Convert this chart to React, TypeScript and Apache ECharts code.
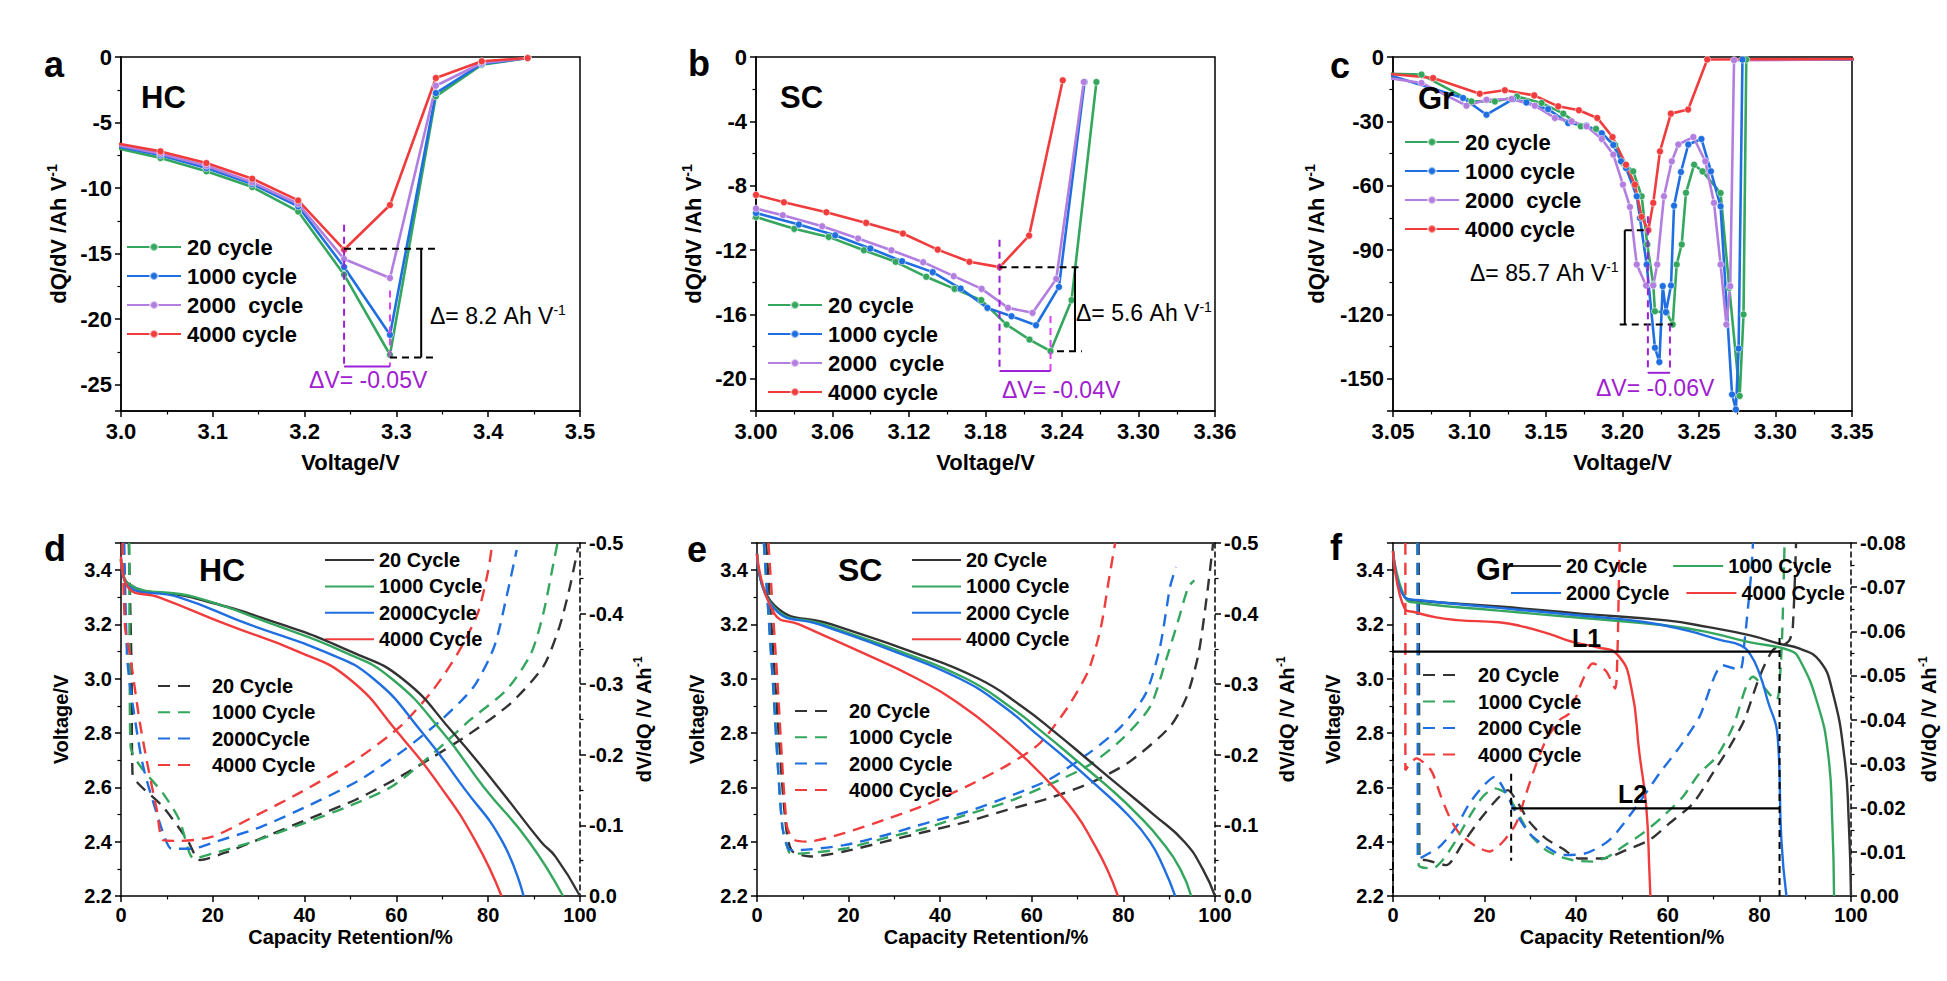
import React, { useEffect, useRef } from "react";
import * as echarts from "echarts";

const FONT = '"Liberation Sans", Arial, Helvetica, sans-serif';

// ---------- colours ----------
const GREEN = "#34a65e";
const BLUE = "#1f6fe0";
const PURPLE = "#b27ee0";
const RED = "#f03c3c";
const DARK = "#333333";
const VIOLET = "#a020d0";

// ---------- panel a : HC dQ/dV ----------
const A_VOLT = [2.993, 3.043, 3.093, 3.143, 3.193, 3.243, 3.293, 3.343, 3.393, 3.443];
const A_20 = [-6.91, -7.71, -8.72, -9.92, -11.78, -16.6, -22.71, -3.0, -0.58, -0.08];
const A_1000 = [-6.77, -7.5, -8.47, -9.69, -11.39, -16.02, -21.19, -2.75, -0.53, -0.08];
const A_2000 = [-6.67, -7.38, -8.29, -9.56, -11.19, -15.41, -16.86, -2.19, -0.46, -0.08];
const A_4000 = [-6.55, -7.2, -8.09, -9.28, -10.94, -14.7, -11.29, -1.6, -0.33, -0.08];

// ---------- panel b : SC dQ/dV ----------
const B_20_X = [3.0, 3.03, 3.057, 3.0846, 3.1095, 3.1335, 3.1557, 3.1767, 3.1965, 3.2145, 3.231, 3.2475, 3.267];
const B_20_Y = [-9.94, -10.68, -11.18, -12.01, -12.73, -13.66, -14.41, -15.11, -16.63, -17.56, -18.28, -15.11, -1.55];
const B_1000_X = [3.0, 3.0336, 3.0621, 3.0897, 3.1146, 3.1386, 3.1605, 3.1815, 3.2004, 3.2196, 3.2376, 3.2577];
const B_1000_Y = [-9.69, -10.41, -11.08, -11.9, -12.69, -13.37, -14.39, -15.59, -16.11, -16.67, -14.29, -1.55];
const B_2000_X = [3.0, 3.021, 3.0519, 3.0801, 3.1062, 3.1311, 3.1551, 3.177, 3.1977, 3.2169, 3.2355, 3.2571];
const B_2000_Y = [-9.42, -9.83, -10.52, -11.28, -12.01, -12.75, -13.62, -14.41, -15.59, -15.9, -13.79, -1.55];
const B_4000_X = [3.0, 3.0219, 3.0552, 3.0864, 3.1152, 3.1425, 3.1674, 3.1911, 3.2142, 3.2406];
const B_4000_Y = [-8.57, -9.03, -9.65, -10.31, -10.97, -11.97, -12.73, -13.06, -11.1, -1.45];

// ---------- panel c : Gr dQ/dV ----------
const C_20_X = [3.047, 3.0686, 3.1013, 3.1166, 3.131, 3.1471, 3.1613, 3.1727, 3.1827, 3.1952, 3.2003, 3.207, 3.2125, 3.2162, 3.2201, 3.2212, 3.2289, 3.2328, 3.2354, 3.2387, 3.2415, 3.2468, 3.2523, 3.2641, 3.2698, 3.2766, 3.2791, 3.2809, 3.36];
const C_20_Y = [-7.8, -8.2, -20.7, -20.7, -18.4, -21.4, -26.4, -32.3, -33.5, -41, -49.4, -53.3, -64.9, -87.4, -106, -118.5, -119.2, -124.7, -96.7, -87.4, -63.3, -50.2, -53.3, -63.4, -107.6, -158, -120, -1.2, -1.2];
const C_1000_X = [3.047, 3.0958, 3.1111, 3.1285, 3.1372, 3.1514, 3.1645, 3.1765, 3.1865, 3.194, 3.199, 3.2023, 3.2093, 3.2114, 3.2158, 3.2212, 3.2241, 3.2263, 3.2284, 3.2317, 3.2337, 3.2382, 3.243, 3.2516, 3.2578, 3.2641, 3.2716, 3.2741, 3.2759, 3.2784, 3.36];
const C_1000_Y = [-8.3, -19.1, -26.9, -19.6, -21.2, -24.3, -30.8, -32, -35.5, -41, -48.6, -51.7, -64.9, -75, -96.7, -135.5, -142.2, -106.8, -118.9, -106.5, -69.3, -53.6, -40.8, -38.2, -53.3, -69.6, -157.3, -164.3, -135.9, -1.2, -1.2];
const C_2000_X = [3.047, 3.0686, 3.098, 3.1111, 3.1275, 3.1427, 3.1558, 3.1667, 3.1765, 3.1865, 3.194, 3.2003, 3.2049, 3.2093, 3.2154, 3.2201, 3.2227, 3.2271, 3.2322, 3.2365, 3.2463, 3.2541, 3.2598, 3.2641, 3.2679, 3.2704, 3.2729, 3.36];
const C_2000_Y = [-9.8, -12.1, -22.7, -19.9, -19.6, -22.7, -28.4, -30, -32.3, -38.2, -45.5, -59.5, -69.9, -96.7, -106.5, -106.5, -96.7, -64.9, -48.6, -40.8, -37.3, -48.6, -68, -96.7, -124.7, -106.8, -1.5, -1];
const C_4000_X = [3.047, 3.0762, 3.1067, 3.1231, 3.1423, 3.158, 3.1715, 3.1835, 3.1935, 3.2023, 3.2081, 3.2125, 3.2169, 3.2201, 3.2245, 3.2316, 3.2429, 3.2554, 3.36];
const C_4000_Y = [-7.8, -9.8, -17.1, -15.5, -17.9, -23.0, -24.8, -28.4, -37.3, -50.2, -59.5, -74.5, -80.7, -68, -44, -26.4, -24.5, -1.2, -0.9];

// ---------- panel d : HC voltage & dV/dQ ----------
const D_S20_X = [0, 1.6, 15.4, 35, 50.1, 61.3, 72.4, 82.2, 91.5, 94.7, 100];
const D_S20_V = [3.44, 3.35, 3.3, 3.2, 3.1, 3.0, 2.8, 2.6, 2.4, 2.344, 2.2];
const D_S1000_X = [0, 1.6, 16.3, 33.2, 48.4, 59, 70.2, 79.1, 88.9, 96.3];
const D_S1000_V = [3.44, 3.35, 3.3, 3.2, 3.1, 3.0, 2.8, 2.6, 2.4, 2.2];
const D_S2000_X = [0, 1.6, 12.7, 27.9, 44.3, 55, 65.7, 74.6, 83.1, 87.7];
const D_S2000_V = [3.44, 3.34, 3.3, 3.2, 3.1, 3.0, 2.8, 2.6, 2.4, 2.2];
const D_S4000_X = [0, 1.6, 8.3, 23, 38.6, 49.7, 60.4, 69.7, 77.3, 82.9];
const D_S4000_V = [3.45, 3.335, 3.3, 3.2, 3.1, 3.0, 2.8, 2.6, 2.4, 2.2];
const D_D20_X = [1.7, 2.3, 2.5, 3.8, 9.2, 14.5, 17.2, 23.4, 31.4, 41.2, 51, 60.8, 68, 76, 84.9, 92, 95.5, 97.8, 99.6];
const D_D20_Y = [-0.5, -0.32, -0.174, -0.159, -0.126, -0.079, -0.051, -0.063, -0.084, -0.11, -0.136, -0.169, -0.197, -0.23, -0.273, -0.325, -0.381, -0.438, -0.494];
const D_D1000_X = [1.8, 1.9, 2.1, 4.3, 9.2, 12.7, 15.9, 19.9, 28.8, 38.6, 49.2, 59, 68, 76, 84, 89.3, 92, 94.2, 95.1];
const D_D1000_Y = [-0.5, -0.3, -0.211, -0.183, -0.145, -0.108, -0.053, -0.06, -0.077, -0.1, -0.126, -0.155, -0.202, -0.249, -0.292, -0.343, -0.4, -0.471, -0.5];
const D_D2000_X = [0.7, 1.3, 2, 4.3, 5.6, 9.2, 11, 15.4, 20.7, 30.5, 41.2, 51.9, 61.7, 69.7, 76.8, 81.3, 84, 86.2];
const D_D2000_Y = [-0.5, -0.343, -0.296, -0.2, -0.164, -0.089, -0.067, -0.067, -0.077, -0.098, -0.129, -0.164, -0.207, -0.249, -0.296, -0.353, -0.424, -0.49];
const D_D4000_X = [0.3, 0.9, 2, 4, 5.6, 7.8, 9.2, 12.7, 19.9, 28.8, 38.6, 50.1, 60.8, 68, 73.3, 77.7, 80, 80.9];
const D_D4000_Y = [-0.5, -0.38, -0.34, -0.25, -0.192, -0.122, -0.079, -0.078, -0.084, -0.112, -0.145, -0.188, -0.24, -0.292, -0.343, -0.4, -0.461, -0.5];

// ---------- panel e : SC voltage & dV/dQ ----------
const E_S20_X = [0, 3.8, 16.3, 33.7, 48.4, 57.7, 65.3, 72.4, 79.5, 86.6, 93.3, 97.3, 100];
const E_S20_V = [3.46, 3.27, 3.2, 3.1, 3.0, 2.9, 2.8, 2.7, 2.6, 2.5, 2.4, 2.3, 2.2];
const E_S1000_X = [0, 3.8, 14.5, 31.4, 45.7, 55, 62.6, 69.7, 76.8, 83.1, 88.4, 92.4, 94.8];
const E_S1000_V = [3.46, 3.262, 3.2, 3.1, 3.0, 2.9, 2.8, 2.7, 2.6, 2.5, 2.4, 2.3, 2.2];
const E_S2000_X = [0, 3.8, 13.6, 30.1, 44.3, 53.7, 60.8, 67.9, 74.6, 80.9, 85.8, 88.9, 91.3];
const E_S2000_V = [3.46, 3.258, 3.2, 3.1, 3.0, 2.9, 2.8, 2.7, 2.6, 2.5, 2.4, 2.3, 2.2];
const E_S4000_X = [0, 3.8, 9.2, 22.5, 35, 44.8, 52.4, 59, 64.8, 69.7, 73.3, 76.4, 78.8];
const E_S4000_V = [3.46, 3.24, 3.2, 3.1, 3.0, 2.9, 2.8, 2.7, 2.6, 2.5, 2.4, 2.3, 2.2];
const E_D20_X = [2, 4, 6, 7.5, 11.8, 19, 27.9, 36.8, 45.7, 54.6, 63.5, 72.4, 81.3, 90.2, 93.8, 96.4, 98.2, 99.6];
const E_D20_Y = [-0.5, -0.3, -0.12, -0.065, -0.056, -0.063, -0.077, -0.091, -0.105, -0.122, -0.138, -0.159, -0.19, -0.24, -0.282, -0.343, -0.424, -0.5];
const E_D1000_X = [1.5, 3.5, 5.5, 7, 8.3, 19, 27.9, 36.8, 45.7, 54.6, 63.5, 72.4, 79.5, 85.8, 89.3, 92, 94.2, 95.5];
const E_D1000_Y = [-0.5, -0.3, -0.1, -0.062, -0.06, -0.067, -0.082, -0.096, -0.115, -0.133, -0.157, -0.185, -0.221, -0.268, -0.334, -0.391, -0.438, -0.447];
const E_D2000_X = [1.5, 3.5, 5.5, 7, 8.3, 19, 27.9, 36.8, 45.7, 54.6, 63.5, 72.4, 79.5, 84.9, 88, 90.2, 91.5];
const E_D2000_Y = [-0.5, -0.3, -0.1, -0.066, -0.065, -0.072, -0.086, -0.103, -0.119, -0.14, -0.164, -0.202, -0.24, -0.287, -0.353, -0.438, -0.466];
const E_D4000_X = [2.5, 4.5, 6.5, 8, 11, 19, 27.9, 36.8, 45.7, 54.6, 61.7, 67.9, 72.4, 75.1, 76.8, 78.2];
const E_D4000_Y = [-0.5, -0.3, -0.1, -0.08, -0.077, -0.089, -0.108, -0.129, -0.155, -0.185, -0.216, -0.268, -0.32, -0.381, -0.447, -0.5];

// ---------- panel f : Gr voltage & dV/dQ ----------
const F_S20_X = [0, 2.6, 5.3, 23.1, 41.4, 59.7, 68.9, 78, 84.4, 88.8, 93.1, 95.9, 98.6, 99.5, 100];
const F_S20_V = [3.47, 3.3, 3.288, 3.266, 3.239, 3.215, 3.19, 3.16, 3.129, 3.111, 3.067, 2.957, 2.706, 2.479, 2.2];
const F_S1000_X = [0, 2.6, 5.3, 23.1, 41.4, 59.7, 68.9, 78, 86.6, 88.8, 92.7, 95, 95.9, 96.3];
const F_S1000_V = [3.47, 3.3, 3.28, 3.251, 3.224, 3.196, 3.171, 3.134, 3.105, 3.07, 2.908, 2.724, 2.479, 2.2];
const F_S2000_X = [0, 2.6, 5.3, 23.1, 41.4, 55.2, 64.3, 71.6, 75.8, 78, 80, 81.8, 84, 84.8, 85.9];
const F_S2000_V = [3.47, 3.3, 3.29, 3.261, 3.232, 3.208, 3.177, 3.142, 3.124, 3.09, 3.02, 2.92, 2.786, 2.406, 2.2];
const F_S4000_X = [0, 2.6, 4.8, 9.4, 14, 23.1, 27.7, 34.1, 39.6, 44.4, 49.1, 52, 53.8, 55.3, 56, 56.2];
const F_S4000_V = [3.47, 3.257, 3.245, 3.226, 3.216, 3.208, 3.195, 3.165, 3.134, 3.117, 3.087, 2.97, 2.725, 2.528, 2.283, 2.2];
const F_D20_X = [5.6, 5.7, 5.8, 6.5, 11.6, 15.2, 18.9, 22.5, 25.1, 26.9, 29.8, 33.4, 37.1, 40.5, 45.8, 50.9, 56, 60.4, 65.5, 69.8, 73.5, 76.7, 80, 82.9, 85.5, 86.6, 87.3, 88];
const F_D20_Y = [-0.08, -0.04, -0.0082, -0.0082, -0.007, -0.0119, -0.0172, -0.0217, -0.024, -0.0217, -0.0168, -0.013, -0.0107, -0.0085, -0.0085, -0.0104, -0.0127, -0.0165, -0.021, -0.0278, -0.0338, -0.0399, -0.0496, -0.0557, -0.057, -0.058, -0.061, -0.08];
const F_D1000_X = [5.3, 5.5, 5.6, 8.7, 10.9, 13.8, 16.7, 19.6, 22.2, 24.7, 26.9, 29.8, 33.4, 37.1, 40, 43.6, 46.9, 50.2, 54.5, 58.9, 63.3, 66.9, 70.6, 74.2, 78.6, 83.7, 84.5, 85, 85.5];
const F_D1000_Y = [-0.08, -0.04, -0.007, -0.0063, -0.0082, -0.0127, -0.018, -0.0225, -0.0244, -0.0233, -0.0195, -0.0142, -0.0104, -0.0087, -0.008, -0.0078, -0.0089, -0.0112, -0.0142, -0.018, -0.0225, -0.0278, -0.0315, -0.0383, -0.0497, -0.0444, -0.0498, -0.06, -0.08];
const F_D2000_X = [5.4, 5.4, 5.4, 6.5, 10.2, 13.8, 16.7, 19.6, 22.2, 24.7, 26.9, 29.8, 33.4, 37.1, 42.2, 47.3, 53.1, 58.2, 62.6, 66.9, 72, 75.7, 76.7, 78.2, 78.6];
const F_D2000_Y = [-0.08, -0.04, -0.0082, -0.0089, -0.0112, -0.0157, -0.021, -0.0248, -0.027, -0.0233, -0.0187, -0.0142, -0.0112, -0.0093, -0.0097, -0.0127, -0.0202, -0.0278, -0.0338, -0.0406, -0.0523, -0.0512, -0.0572, -0.0731, -0.08];
const F_D4000_X = [2.7, 2.7, 2.7, 5.1, 8.3, 10.5, 12.3, 14.5, 18.2, 21.1, 24, 26.9, 29.1, 31.3, 33.4, 36.4, 38.5, 41.4, 43.6, 46.5, 48.5, 49, 49.3, 49.5];
const F_D4000_Y = [-0.08, -0.05, -0.0285, -0.0312, -0.0285, -0.0225, -0.018, -0.0142, -0.0112, -0.0101, -0.0123, -0.0165, -0.0233, -0.03, -0.0353, -0.0399, -0.0414, -0.0489, -0.0527, -0.051, -0.047, -0.055, -0.07, -0.08];

// ---------- annotation guides (data units) ----------
const A_GUIDE_V = [3.243, 3.293, 3.327, 3.342];
const A_GUIDE_Q = [-12.8, -17.8, -14.62, -22.92, -23.6];
const B_GUIDE_V = [3.191, 3.231, 3.2502, 3.2556, 3.2361];
const B_GUIDE_Q = [-11.35, -16.1, -13.06, -18.28, -19.52];
const C_GUIDE_V = [3.2015, 3.2166, 3.1982, 3.2328, 3.231];
const C_GUIDE_Q = [-80.7, -124.7, -74.2, -147.2];
const F_GUIDE_X = [0, 25.8, 84.4];
const F_GUIDE_V = [3.1, 2.523, 3.165, 2.2, 2.65, 2.33, 3.15];

const zip = (xs: number[], ys: number[]) => xs.map((x, i) => [x, ys[i]]);

const TOP_FS = 22;
const BOT_FS = 20;

function valueAxis(o: any) {
  const fs = o.fs;
  return {
    type: "value",
    gridIndex: o.grid,
    position: o.position,
    min: o.min,
    max: o.max,
    minInterval: o.step,
    maxInterval: o.step,
    splitNumber: Math.round((o.max - o.min) / o.step),
    inverse: !!o.inverse,
    name: o.name,
    nameLocation: "middle",
    nameGap: o.nameGap,
    nameRotate: o.nameRotate,
    nameTextStyle: o.nameStyle,
    axisLine: { show: true, onZero: false, lineStyle: { color: "#000", width: 1.5, type: o.dashed ? [5, 4] : "solid" } },
    axisTick: { show: true, length: 6, lineStyle: { color: "#000", width: 1.5 } },
    minorTick: { show: true, splitNumber: 2, length: 3.5, lineStyle: { color: "#000", width: 1.2 } },
    splitLine: { show: false },
    minorSplitLine: { show: false },
    axisLabel: {
      show: true,
      color: "#000",
      fontFamily: FONT,
      fontWeight: "bold",
      fontSize: fs,
      margin: 9,
      showMinLabel: o.showMin !== false,
      showMaxLabel: o.showMax !== false,
      formatter: (v: number) => v.toFixed(o.dec),
    },
  };
}

function plainStyle(fs: number) {
  return { color: "#000", fontFamily: FONT, fontWeight: "bold", fontSize: fs };
}
function supName(fs: number) {
  return {
    color: "#000",
    rich: {
      b: { fontFamily: FONT, fontWeight: "bold", fontSize: fs, color: "#000", lineHeight: fs + 4 },
      s: { fontFamily: FONT, fontWeight: "bold", fontSize: Math.round(fs * 0.62), color: "#000", lineHeight: Math.round(fs * 0.62), verticalAlign: "top" },
    },
  };
}

function topLine(name: string, xs: number[], ys: number[], color: string, idx: number) {
  return {
    type: "line",
    name,
    xAxisIndex: idx,
    yAxisIndex: idx,
    data: zip(xs, ys),
    symbol: "circle",
    symbolSize: 7,
    showSymbol: true,
    lineStyle: { color, width: 2.6 },
    itemStyle: { color, borderColor: "rgba(255,255,255,0.55)", borderWidth: 1 },
    z: 4,
  };
}

function curve(name: string, xs: number[], ys: number[], color: string, xi: number, yi: number, dashed: boolean) {
  return {
    type: "line",
    name,
    xAxisIndex: xi,
    yAxisIndex: yi,
    data: zip(xs, ys),
    symbol: "none",
    showSymbol: false,
    smooth: dashed ? 0.25 : 0.5,
    lineStyle: { color, width: 2.4, type: dashed ? [12, 8] : "solid" },
    itemStyle: { color },
    z: dashed ? 3 : 4,
  };
}

function guide(xs: number[], ys: number[], color: string, xi: number, yi: number, dashed: boolean, width = 2) {
  return {
    type: "line",
    xAxisIndex: xi,
    yAxisIndex: yi,
    data: zip(xs, ys),
    symbol: "none",
    showSymbol: false,
    silent: true,
    lineStyle: { color, width, type: dashed ? [7, 5] : "solid" },
    z: 6,
  };
}

function legendBlock(names: string[], left: number, top: number, fs: number, itemWidth: number, gap: number, textPad: number, orient = "vertical", hideDot = false) {
  const l: any = {
    show: true,
    orient,
    left,
    top,
    padding: 0,
    itemGap: gap,
    itemWidth,
    itemHeight: 10,
    selectedMode: false,
    data: names,
    formatter: (n: string) => n.split("|")[1],
    textStyle: { color: "#000", fontFamily: FONT, fontWeight: "bold", fontSize: fs, lineHeight: fs, padding: [0, 0, 0, textPad] },
  };
  if (hideDot) l.itemStyle = { color: "rgba(0,0,0,0)", borderColor: "rgba(0,0,0,0)", borderWidth: 0, opacity: 0 };
  return l;
}

function txt(text: string, x: number, y: number, size: number, bold = true, color = "#000") {
  return {
    type: "text",
    x,
    y,
    z: 100,
    style: {
      text,
      fill: color,
      fontFamily: FONT,
      fontWeight: bold ? "bold" : "normal",
      fontSize: size,
      align: "left",
      verticalAlign: "middle",
      textAlign: "left",
      textVerticalAlign: "middle",
    },
  };
}

function deltaTxt(main: string, x: number, y: number) {
  return {
    type: "text",
    x,
    y,
    z: 100,
    style: {
      text: `{n|${main}}{s|-1}`,
      fill: "#000",
      align: "left",
      verticalAlign: "middle",
      rich: {
        n: { fontFamily: FONT, fontSize: 23, fill: "#000", lineHeight: 26 },
        s: { fontFamily: FONT, fontSize: 14, fill: "#000", lineHeight: 14, verticalAlign: "top" },
      },
    },
  };
}

function buildOption() {
  const grids = [
    { left: 121, top: 57, width: 459, height: 354, show: true, borderColor: "#000", borderWidth: 1.5 },
    { left: 756, top: 57, width: 459, height: 354, show: true, borderColor: "#000", borderWidth: 1.5 },
    { left: 1393, top: 57, width: 459, height: 354, show: true, borderColor: "#000", borderWidth: 1.5 },
    { left: 121, top: 543, width: 459, height: 353, show: false },
    { left: 757, top: 543, width: 458, height: 353, show: false },
    { left: 1393, top: 543, width: 458, height: 353, show: false },
  ];

  const xName = (fs: number, name: string, gap: number) => ({ name, nameGap: gap, nameStyle: plainStyle(fs) });

  const xAxis: any[] = [
    valueAxis({ grid: 0, position: "bottom", min: 3.0, max: 3.5, step: 0.1, dec: 1, fs: TOP_FS, ...xName(TOP_FS, "Voltage/V", 40) }),
    valueAxis({ grid: 1, position: "bottom", min: 3.0, max: 3.36, step: 0.06, dec: 2, fs: TOP_FS, ...xName(TOP_FS, "Voltage/V", 40) }),
    valueAxis({ grid: 2, position: "bottom", min: 3.05, max: 3.35, step: 0.05, dec: 2, fs: TOP_FS, ...xName(TOP_FS, "Voltage/V", 40) }),
    valueAxis({ grid: 3, position: "bottom", min: 0, max: 100, step: 20, dec: 0, fs: BOT_FS, ...xName(BOT_FS, "Capacity Retention/%", 31) }),
    valueAxis({ grid: 4, position: "bottom", min: 0, max: 100, step: 20, dec: 0, fs: BOT_FS, ...xName(BOT_FS, "Capacity Retention/%", 31) }),
    valueAxis({ grid: 5, position: "bottom", min: 0, max: 100, step: 20, dec: 0, fs: BOT_FS, ...xName(BOT_FS, "Capacity Retention/%", 31) }),
  ];
  for (let g = 3; g <= 5; g++) {
    xAxis.push({
      type: "value",
      gridIndex: g,
      position: "top",
      min: 0,
      max: 100,
      axisLine: { show: true, onZero: false, lineStyle: { color: "#000", width: 1.5 } },
      axisTick: { show: false },
      axisLabel: { show: false },
      splitLine: { show: false },
    });
  }

  const yAxis: any[] = [
    valueAxis({ grid: 0, position: "left", min: -27, max: 0, step: 5, dec: 0, fs: TOP_FS, showMin: false, name: "{b|dQ/dV /Ah V}{s|-1}", nameGap: 50, nameRotate: 90, nameStyle: supName(TOP_FS) }),
    valueAxis({ grid: 1, position: "left", min: -22, max: 0, step: 4, dec: 0, fs: TOP_FS, showMin: false, name: "{b|dQ/dV /Ah V}{s|-1}", nameGap: 50, nameRotate: 90, nameStyle: supName(TOP_FS) }),
    valueAxis({ grid: 2, position: "left", min: -165, max: 0, step: 30, dec: 0, fs: TOP_FS, showMin: false, name: "{b|dQ/dV /Ah V}{s|-1}", nameGap: 64, nameRotate: 90, nameStyle: supName(TOP_FS) }),
    valueAxis({ grid: 3, position: "left", min: 2.2, max: 3.5, step: 0.2, dec: 1, fs: BOT_FS, showMax: false, name: "Voltage/V", nameGap: 50, nameRotate: 90, nameStyle: plainStyle(BOT_FS) }),
    valueAxis({ grid: 3, position: "right", min: -0.5, max: 0, step: 0.1, dec: 1, fs: BOT_FS, inverse: true, dashed: true, name: "{b|dV/dQ /V Ah}{s|-1}", nameGap: 52, nameRotate: 90, nameStyle: supName(BOT_FS) }),
    valueAxis({ grid: 4, position: "left", min: 2.2, max: 3.5, step: 0.2, dec: 1, fs: BOT_FS, showMax: false, name: "Voltage/V", nameGap: 50, nameRotate: 90, nameStyle: plainStyle(BOT_FS) }),
    valueAxis({ grid: 4, position: "right", min: -0.5, max: 0, step: 0.1, dec: 1, fs: BOT_FS, inverse: true, dashed: true, name: "{b|dV/dQ /V Ah}{s|-1}", nameGap: 60, nameRotate: 90, nameStyle: supName(BOT_FS) }),
    valueAxis({ grid: 5, position: "left", min: 2.2, max: 3.5, step: 0.2, dec: 1, fs: BOT_FS, showMax: false, name: "Voltage/V", nameGap: 50, nameRotate: 90, nameStyle: plainStyle(BOT_FS) }),
    valueAxis({ grid: 5, position: "right", min: -0.08, max: 0, step: 0.01, dec: 2, fs: BOT_FS, inverse: true, dashed: true, name: "{b|dV/dQ /V Ah}{s|-1}", nameGap: 66, nameRotate: 90, nameStyle: supName(BOT_FS) }),
  ];

  const series: any[] = [
    topLine("a|20 cycle", A_VOLT, A_20, GREEN, 0),
    topLine("a|1000 cycle", A_VOLT, A_1000, BLUE, 0),
    topLine("a|2000  cycle", A_VOLT, A_2000, PURPLE, 0),
    topLine("a|4000 cycle", A_VOLT, A_4000, RED, 0),
    topLine("b|20 cycle", B_20_X, B_20_Y, GREEN, 1),
    topLine("b|1000 cycle", B_1000_X, B_1000_Y, BLUE, 1),
    topLine("b|2000  cycle", B_2000_X, B_2000_Y, PURPLE, 1),
    topLine("b|4000 cycle", B_4000_X, B_4000_Y, RED, 1),
    topLine("c|20 cycle", C_20_X, C_20_Y, GREEN, 2),
    topLine("c|1000 cycle", C_1000_X, C_1000_Y, BLUE, 2),
    topLine("c|2000  cycle", C_2000_X, C_2000_Y, PURPLE, 2),
    topLine("c|4000 cycle", C_4000_X, C_4000_Y, RED, 2),
    curve("dd|20 Cycle", D_D20_X, D_D20_Y, DARK, 3, 4, true),
    curve("dd|1000 Cycle", D_D1000_X, D_D1000_Y, GREEN, 3, 4, true),
    curve("dd|2000Cycle", D_D2000_X, D_D2000_Y, BLUE, 3, 4, true),
    curve("dd|4000 Cycle", D_D4000_X, D_D4000_Y, RED, 3, 4, true),
    curve("ds|20 Cycle", D_S20_X, D_S20_V, DARK, 3, 3, false),
    curve("ds|1000 Cycle", D_S1000_X, D_S1000_V, GREEN, 3, 3, false),
    curve("ds|2000Cycle", D_S2000_X, D_S2000_V, BLUE, 3, 3, false),
    curve("ds|4000 Cycle", D_S4000_X, D_S4000_V, RED, 3, 3, false),
    curve("ed|20 Cycle", E_D20_X, E_D20_Y, DARK, 4, 6, true),
    curve("ed|1000 Cycle", E_D1000_X, E_D1000_Y, GREEN, 4, 6, true),
    curve("ed|2000 Cycle", E_D2000_X, E_D2000_Y, BLUE, 4, 6, true),
    curve("ed|4000 Cycle", E_D4000_X, E_D4000_Y, RED, 4, 6, true),
    curve("es|20 Cycle", E_S20_X, E_S20_V, DARK, 4, 5, false),
    curve("es|1000 Cycle", E_S1000_X, E_S1000_V, GREEN, 4, 5, false),
    curve("es|2000 Cycle", E_S2000_X, E_S2000_V, BLUE, 4, 5, false),
    curve("es|4000 Cycle", E_S4000_X, E_S4000_V, RED, 4, 5, false),
    curve("fd|20 Cycle", F_D20_X, F_D20_Y, DARK, 5, 8, true),
    curve("fd|1000 Cycle", F_D1000_X, F_D1000_Y, GREEN, 5, 8, true),
    curve("fd|2000 Cycle", F_D2000_X, F_D2000_Y, BLUE, 5, 8, true),
    curve("fd|4000 Cycle", F_D4000_X, F_D4000_Y, RED, 5, 8, true),
    curve("fs|20 Cycle", F_S20_X, F_S20_V, DARK, 5, 7, false),
    curve("fs|1000 Cycle", F_S1000_X, F_S1000_V, GREEN, 5, 7, false),
    curve("fs|2000 Cycle", F_S2000_X, F_S2000_V, BLUE, 5, 7, false),
    curve("fs|4000 Cycle", F_S4000_X, F_S4000_V, RED, 5, 7, false),

    guide([A_GUIDE_V[0], A_GUIDE_V[0]], [A_GUIDE_Q[0], A_GUIDE_Q[4]], "#9b22d6", 0, 0, true),
    guide([A_GUIDE_V[1], A_GUIDE_V[1]], [A_GUIDE_Q[1], A_GUIDE_Q[4]], "#e040fb", 0, 0, true),
    guide([A_GUIDE_V[0], A_GUIDE_V[1]], [A_GUIDE_Q[4], A_GUIDE_Q[4]], "#9b22d6", 0, 0, false),
    guide([A_GUIDE_V[0], A_GUIDE_V[3]], [A_GUIDE_Q[2], A_GUIDE_Q[2]], "#000", 0, 0, true),
    guide([A_GUIDE_V[1], A_GUIDE_V[3]], [A_GUIDE_Q[3], A_GUIDE_Q[3]], "#000", 0, 0, true),
    guide([A_GUIDE_V[2], A_GUIDE_V[2]], [A_GUIDE_Q[2], A_GUIDE_Q[3]], "#000", 0, 0, false),
    guide([B_GUIDE_V[0], B_GUIDE_V[0]], [B_GUIDE_Q[0], B_GUIDE_Q[4]], "#9b22d6", 1, 1, true),
    guide([B_GUIDE_V[1], B_GUIDE_V[1]], [B_GUIDE_Q[1], B_GUIDE_Q[4]], "#e040fb", 1, 1, true),
    guide([B_GUIDE_V[0], B_GUIDE_V[1]], [B_GUIDE_Q[4], B_GUIDE_Q[4]], "#9b22d6", 1, 1, false),
    guide([B_GUIDE_V[0], B_GUIDE_V[3]], [B_GUIDE_Q[2], B_GUIDE_Q[2]], "#000", 1, 1, true),
    guide([B_GUIDE_V[4], B_GUIDE_V[3]], [B_GUIDE_Q[3], B_GUIDE_Q[3]], "#000", 1, 1, true),
    guide([B_GUIDE_V[2], B_GUIDE_V[2]], [B_GUIDE_Q[2], B_GUIDE_Q[3]], "#000", 1, 1, false),
    guide([C_GUIDE_V[0], C_GUIDE_V[1]], [C_GUIDE_Q[0], C_GUIDE_Q[0]], "#000", 2, 2, true),
    guide([C_GUIDE_V[2], C_GUIDE_V[3]], [C_GUIDE_Q[1], C_GUIDE_Q[1]], "#000", 2, 2, true),
    guide([C_GUIDE_V[0], C_GUIDE_V[0]], [C_GUIDE_Q[0], C_GUIDE_Q[1]], "#000", 2, 2, false),
    guide([C_GUIDE_V[1], C_GUIDE_V[1]], [C_GUIDE_Q[2], C_GUIDE_Q[3]], "#9b22d6", 2, 2, true),
    guide([C_GUIDE_V[4], C_GUIDE_V[4]], [C_GUIDE_Q[1], C_GUIDE_Q[3]], "#9b22d6", 2, 2, true),
    guide([C_GUIDE_V[1], C_GUIDE_V[4]], [C_GUIDE_Q[3], C_GUIDE_Q[3]], "#9b22d6", 2, 2, false),
    guide([F_GUIDE_X[0], F_GUIDE_X[2]], [F_GUIDE_V[0], F_GUIDE_V[0]], "#000", 5, 7, false, 2.2),
    guide([F_GUIDE_X[1], F_GUIDE_X[2]], [F_GUIDE_V[1], F_GUIDE_V[1]], "#000", 5, 7, false, 2.2),
    guide([F_GUIDE_X[0], F_GUIDE_X[0]], [F_GUIDE_V[2], F_GUIDE_V[3]], "#000", 5, 7, true),
    guide([F_GUIDE_X[1], F_GUIDE_X[1]], [F_GUIDE_V[4], F_GUIDE_V[5]], "#000", 5, 7, true),
    guide([F_GUIDE_X[2], F_GUIDE_X[2]], [F_GUIDE_V[6], F_GUIDE_V[3]], "#000", 5, 7, true),
  ];

  const topNames = (p: string) => [`${p}|20 cycle`, `${p}|1000 cycle`, `${p}|2000  cycle`, `${p}|4000 cycle`];

  const legend = [
    legendBlock(topNames("a"), 126, 236, TOP_FS, 54, 7, 1),
    legendBlock(topNames("b"), 767, 294, TOP_FS, 54, 7, 1),
    legendBlock(topNames("c"), 1404, 131, TOP_FS, 54, 7, 1),
    legendBlock(["ds|20 Cycle", "ds|1000 Cycle", "ds|2000Cycle", "ds|4000 Cycle"], 324, 550, BOT_FS, 49, 6.4, 0, "vertical", true),
    legendBlock(["dd|20 Cycle", "dd|1000 Cycle", "dd|2000Cycle", "dd|4000 Cycle"], 157, 676, BOT_FS, 39, 6.3, 10, "vertical", true),
    legendBlock(["es|20 Cycle", "es|1000 Cycle", "es|2000 Cycle", "es|4000 Cycle"], 911, 550, BOT_FS, 49, 6.4, 0, "vertical", true),
    legendBlock(["ed|20 Cycle", "ed|1000 Cycle", "ed|2000 Cycle", "ed|4000 Cycle"], 794, 701, BOT_FS, 38, 6.3, 11, "vertical", true),
    legendBlock(["fs|20 Cycle", "fs|1000 Cycle"], 1510, 556, BOT_FS, 50, 25, 0, "horizontal", true),
    legendBlock(["fs|2000 Cycle", "fs|4000 Cycle"], 1510, 583, BOT_FS, 50, 16, 0, "horizontal", true),
    legendBlock(["fd|20 Cycle", "fd|1000 Cycle", "fd|2000 Cycle", "fd|4000 Cycle"], 1422, 665, BOT_FS, 40, 6.5, 10, "vertical", true),
  ];

  const graphic = [
    txt("a", 44, 64, 36),
    txt("b", 688, 63, 36),
    txt("c", 1330, 65, 36),
    txt("d", 44, 548, 36),
    txt("e", 687, 549, 36),
    txt("f", 1330, 547, 36),
    txt("HC", 141, 97, 31),
    txt("SC", 780, 97, 31),
    txt("Gr", 1418, 98, 31),
    txt("HC", 199, 570, 32),
    txt("SC", 838, 570, 32),
    txt("Gr", 1476, 569, 32),
    txt("L1", 1572, 638, 25),
    txt("L2", 1618, 794, 25),
    deltaTxt("Δ= 8.2 Ah V", 430, 316),
    deltaTxt("Δ= 5.6 Ah V", 1076, 313),
    deltaTxt("Δ= 85.7 Ah V", 1470, 273),
    txt("ΔV= -0.05V", 309, 380, 23, false, VIOLET),
    txt("ΔV= -0.04V", 1002, 390, 23, false, VIOLET),
    txt("ΔV= -0.06V", 1596, 388, 23, false, VIOLET),
  ];

  return {
    animation: false,
    backgroundColor: "#ffffff",
    textStyle: { fontFamily: FONT },
    grid: grids,
    xAxis,
    yAxis,
    legend,
    series,
    graphic,
  };
}

export default function App() {
  const ref = useRef<HTMLDivElement>(null);
  useEffect(() => {
    if (!ref.current) return;
    const chart = echarts.init(ref.current, undefined, { renderer: "svg" });
    chart.setOption(buildOption() as any);
    return () => chart.dispose();
  }, []);
  return (
    <div
      ref={ref}
      style={{ position: "fixed", left: 0, top: 0, width: 1947, height: 981, background: "#fff" }}
    />
  );
}
